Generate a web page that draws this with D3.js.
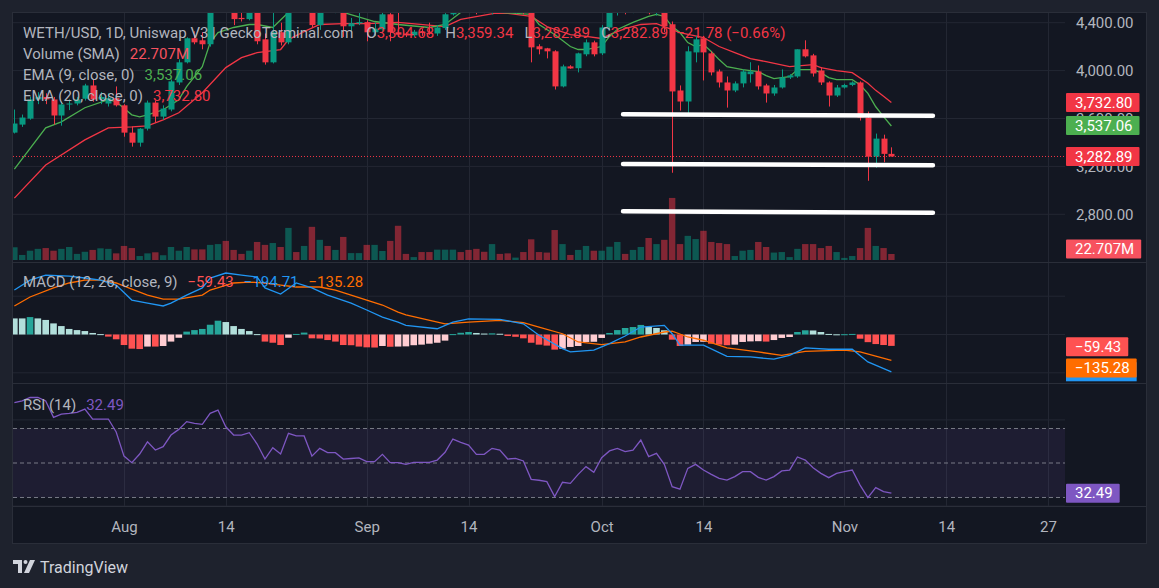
<!DOCTYPE html>
<html>
<head>
<meta charset="utf-8">
<title>WETH/USD 1D</title>
<script src="https://cdn.jsdelivr.net/npm/d3@7"></script>
<style>
  body { margin: 0; background: #1e222d; }
  svg { display: block; }
  text { font-family: Roboto, "Noto Sans", sans-serif; white-space: pre; }
</style>
</head>
<body>
<svg id="chart" width="1159" height="588"></svg>
<script>
// daily candles, first bar is Jul 18 2025
var firstDay = "2025-07-18";
var opens = [3482,3549,3599,3759,3780,3759,3625,3717,3725,3765,
  3876,3759,3725,3770,3710,3482,3398,3515,3733,3616,
  3675,3901,4069,4270,4253,4220,4610,4780,4620,4440,
  4430,4500,4261,4069,4320,4236,4850,4800,4810,4380,
  4620,4540,4550,4370,4395,4405,4320,4345,4470,4320,
  4310,4295,4325,4315,4310,4355,4470,4720,4700,4630,
  4540,4525,4610,4600,4490,4505,4490,4203,4186,4161,
  3868,4035,4020,4136,4236,4144,4360,4500,4520,4500,
  4540,4700,4480,4540,4387,3834,3742,4152,4270,4144,
  3993,3901,3834,3893,3970,3993,3876,3809,3859,3943,
  3951,4178,4127,4001,3901,3792,3859,3880,3901,3608,
  3281,3432,3304.68];
var highs = [3675,3633,3784,3820,3810,3780,3740,3760,3780,3890,
  3926,3820,3810,3868,3720,3532,3520,3750,3750,3710,
  3926,4094,4278,4328,4320,4640,4810,4800,4670,4490,
  4540,4520,4310,4500,4400,4900,4890,4970,4820,4640,
  4680,4640,4560,4440,4500,4420,4400,4500,4480,4490,
  4320,4340,4350,4400,4380,4480,4740,4790,4720,4670,
  4550,4620,4660,4620,4520,4510,4495,4220,4190,4170,
  4050,4045,4150,4260,4250,4380,4520,4550,4530,4620,
  4720,4740,4560,4550,4410,3876,4203,4290,4290,4160,
  4010,3951,3910,4010,4070,4043,3890,3880,4010,3970,
  4178,4253,4140,4030,3910,3880,3890,3910,3910,3658,
  3474,3465,3359.34];
var lows = [3475,3530,3590,3720,3720,3549,3540,3670,3710,3750,
  3740,3720,3700,3700,3448,3365,3365,3500,3566,3590,
  3660,3880,4060,4220,4178,4200,4580,4500,4380,4410,
  4420,4220,4050,4060,4210,4220,4760,4720,4360,4340,
  4500,4480,4280,4320,4380,4245,4290,4320,4245,4280,
  4280,4280,4290,4300,4290,4340,4460,4660,4610,4470,
  4480,4470,4580,4480,4475,4470,4069,4136,4102,3842,
  3860,4015,3985,4120,4119,4130,4340,4460,4470,4480,
  4520,4470,4460,4320,3147,3666,3625,4069,3918,3960,
  3859,3691,3820,3860,3900,3842,3733,3790,3850,3930,
  3940,4110,3950,3880,3700,3780,3850,3870,3583,3080,
  3189,3235,3282.89];
var closes = [3558,3608,3759,3780,3760,3625,3717,3725,3759,3876,
  3759,3780,3770,3710,3482,3398,3515,3733,3616,3683,
  3910,4069,4270,4236,4220,4610,4780,4620,4430,4430,
  4500,4245,4069,4320,4236,4850,4800,4810,4380,4620,
  4540,4550,4370,4395,4405,4320,4350,4470,4320,4300,
  4295,4325,4315,4310,4360,4470,4720,4700,4630,4540,
  4525,4610,4600,4490,4505,4490,4194,4178,4161,3868,
  4035,4018,4144,4236,4136,4360,4500,4520,4500,4540,
  4700,4480,4540,4370,3826,3742,4161,4261,4152,3985,
  3901,3834,3893,3993,3993,3868,3809,3859,3943,3960,
  4178,4119,3976,3901,3792,3859,3880,3901,3608,3281,
  3432,3304.67,3282.89];
// volume in millions USD
var volumes = [48,19,35,42,45,35,42,49,23,31,
  38,44,42,25,53,45,15,25,29,18,
  49,35,49,40,40,57,60,72,38,23,
  35,68,57,64,49,121,30,53,125,76,
  53,38,87,26,26,57,57,34,72,129,
  23,11,30,30,39,39,39,30,38,42,
  31,60,23,25,9,30,78,30,28,113,
  60,19,38,53,35,35,50,68,23,38,
  49,83,60,76,234,60,91,79,110,68,
  64,60,15,35,38,68,49,28,30,11,
  42,60,60,45,53,30,8,15,45,121,
  53,45,22.707];

// [bar index, value]
var ema9 = [[0,3178],[4,3522],[6,3572],[9,3690],[12,3757],[13,3740],[15,3631],[16,3614],[17,3631],[19,3673],
  [21,3757],[22,3866],[24,4033],[25,4234],[26,4318],[28,4360],[30,4385],[31,4385],[33,4360],[35,4486],
  [38,4580],[42,4486],[46,4410],[49,4385],[53,4360],[55,4385],[57,4486],[60,4560],[62,4486],[66,4469],
  [67,4385],[69,4301],[71,4201],[72,4176],[73,4176],[75,4201],[76,4285],[77,4343],[79,4402],[81,4452],
  [82,4469],[83,4452],[84,4368],[85,4318],[86,4234],[87,4201],[88,4218],[89,4159],[90,4092],[91,4033],
  [93,4008],[95,3991],[96,3958],[97,3933],[99,3949],[100,4008],[102,4008],[103,3983],[104,3941],[105,3924],
  [107,3924],[108,3882],[109,3810],[110,3698],[111,3615],[112,3537.06]];
var ema20 = [[0,2935],[4,3212],[9,3421],[12,3522],[15,3530],[17,3539],[19,3589],[21,3648],[24,3815],[27,4025],
  [29,4108],[31,4150],[34,4176],[35,4259],[37,4326],[39,4385],[42,4393],[45,4393],[49,4402],[55,4368],
  [57,4427],[62,4486],[66,4452],[68,4368],[71,4301],[73,4285],[75,4268],[76,4300],[78,4350],[80,4385],
  [82,4393],[83,4368],[85,4318],[88,4276],[90,4201],[92,4150],[94,4100],[96,4075],[99,4033],[102,4050],
  [103,4025],[105,4000],[107,3983],[109,3894],[110,3835],[111,3785],[112,3732.8]];

var macdLine = [[0,232],[2,284],[4,310],[7,305],[9,295],[11,284],[13,258],[15,180],[17,164],[19,149],
  [20,164],[22,206],[24,243],[25,295],[27,321],[29,310],[31,300],[32,243],[34,211],[36,269],
  [38,243],[40,206],[43,164],[45,128],[47,91],[49,65],[50,48],[54,30],[56,65],[58,82],
  [62,79],[65,56],[67,-4],[70,-74],[71,-91],[74,-82],[76,-48],[78,-8],[80,39],[83,48],
  [84,4],[85,-56],[88,-56],[91,-114],[94,-117],[97,-129],[99,-109],[101,-70],[104,-77],[107,-77],
  [109,-143],[112,-194.71]];
var signalLine = [[0,149],[2,196],[5,243],[7,269],[9,284],[11,284],[13,269],[15,237],[17,206],[19,185],
  [21,185],[24,206],[25,232],[28,269],[30,274],[32,269],[34,258],[36,248],[39,248],[41,232],
  [43,206],[45,180],[47,154],[49,117],[50,103],[55,56],[58,65],[62,74],[65,62],[67,39],
  [70,4],[72,-39],[75,-53],[78,-39],[80,-13],[83,13],[84,17],[86,-13],[88,-30],[91,-70],
  [95,-91],[98,-109],[101,-88],[106,-82],[108,-91],[112,-135.28]];
var histogram = [84,84,91,84,76,58,44,29,23,18,
  8,2,-11,-25,-55,-74,-76,-63,-63,-60,
  -37,-17,15,23,29,51,72,65,44,29,
  18,2,-37,-43,-55,-17,3,10,-20,-21,
  -29,-37,-55,-56,-63,-67,-68,-60,-64,-63,
  -62,-56,-53,-48,-43,-32,2,9,13,8,
  5,6,4,-8,-12,-20,-43,-53,-58,-79,
  -74,-65,-60,-39,-38,-18,8,23,34,39,
  50,39,34,22,-27,-60,-53,-39,-38,-48,
  -53,-56,-53,-39,-36,-35,-37,-29,-18,-13,
  13,22,21,13,3,1,1.5,3,-22,-40,
  -50,-55,-59.43];
var rsi = [85,86,88,88,86,76.5,78.4,78.8,79.4,81.3,
  75.5,75.5,75.5,68,54,50.2,55.2,62.3,57.5,59.5,
  66.2,69.5,74,73,72.4,78.8,80.7,71,66.2,66.2,
  67.6,61,52.3,58.9,55.2,67.2,65.7,65.7,54,58.5,
  56,56,52.3,52.6,53,50.8,50.8,55,50.2,50.2,
  49.2,50.4,50.4,50.4,51.7,56.2,63.9,62,60.4,55,
  55,58.5,57.5,52.3,52.7,51.2,40.5,40,39.2,30.5,
  38.8,38.2,43.4,47.9,44.6,53.1,57,58.5,56.6,57.5,
  63.3,53.7,55.6,49.2,36.3,34.8,46.9,49.2,45.9,43.4,
  41.1,40.1,42.1,45,45,41.7,40.1,42.1,45.4,45.9,
  53.5,51.7,47.3,44,41.5,44,45,45.9,37.2,29.9,
  35.7,33.4,32.49];

var timeTicks = ["2025-08-01","2025-08-14","2025-09-01","2025-09-14","2025-10-01","2025-10-14","2025-11-01","2025-11-14","2025-11-27"];
var timeLabels = ["Aug","14","Sep","14","Oct","14","Nov","14","27"];
var priceTicks = [2800,3200,3600,4000,4400];
var macdGridTicks = [-200,0,200];
var macdTicks = [0,200];
var rsiTicks = [25,50,75];
var rsiLevels = [30,50,70];
// hand-drawn horizontal lines: [start time, price], [end time, price]
var drawings = [
  [["2025-10-03T17:30Z",3635],["2025-11-12T07:20Z",3623]],
  [["2025-10-03T17:30Z",3220],["2025-11-12T07:20Z",3209]],
  [["2025-10-03T17:30Z",2825],["2025-11-12T07:20Z",2813]]
];

var svg = d3.select("#chart");
var left = 13, right = 1065, axisX = 1066, frameRight = 1146;
var mainTop = 13, mainBottom = 262, macdTop = 263, macdBottom = 383.5, rsiTop = 384, rsiBottom = 506.5;
var upColor = "#089981", downColor = "#f23645", textColor = "#b2b5be", gridColor = "#232733";
var fontSize = 15;

var day0 = new Date(firstDay + "T00:00Z");
var dayAt = function(i) { return d3.utcDay.offset(day0, i); };
var n = closes.length, last = n - 1;

var x = d3.scaleUtc().domain([new Date("2025-08-01T00:00Z"), new Date("2025-11-27T00:00Z")]).range([124, 1048]);
var y = d3.scaleLinear().domain([2800, 4400]).range([214.3, 22.7]);
var yVol = d3.scaleLinear().domain([0, 950]).range([260, 8]);
var yMacd = d3.scaleLinear().domain([0, 200]).range([334.5, 296.2]);
var yRsi = d3.scaleLinear().domain([50, 75]).range([463, 419.9]);
var fmt = d3.format(",.2f");

// frame
svg.append("rect").attr("x", 12.5).attr("y", 12.5).attr("width", 1134).attr("height", 531)
  .attr("fill", "#131722").attr("stroke", "#2a2e39");

var defs = svg.append("defs");
function clip(id, x0, y0, w, h) {
  defs.append("clipPath").attr("id", id).append("rect").attr("x", x0).attr("y", y0).attr("width", w).attr("height", h);
  return "url(#" + id + ")";
}
var mainClip = clip("mainClip", left, mainTop, right - left, mainBottom - mainTop);
var macdClip = clip("macdClip", left, macdTop, frameRight - left, macdBottom - macdTop);
var rsiClip = clip("rsiClip", left, rsiTop, frameRight - left, rsiBottom - rsiTop);
var macdAxisClip = clip("macdAxisClip", axisX, macdTop, frameRight - axisX, macdBottom - macdTop);
var rsiAxisClip = clip("rsiAxisClip", axisX, rsiTop, frameRight - axisX, rsiBottom - rsiTop + 1.5);

// grid
var grid = svg.append("g").attr("stroke", gridColor).attr("stroke-width", 1);
timeTicks.forEach(function(t) {
  var xx = Math.round(x(new Date(t + "T00:00Z"))) + 0.5;
  grid.append("line").attr("x1", xx).attr("x2", xx).attr("y1", mainTop).attr("y2", rsiBottom);
});
priceTicks.forEach(function(p) {
  grid.append("line").attr("x1", left).attr("x2", right).attr("y1", y(p)).attr("y2", y(p));
});
macdGridTicks.forEach(function(v) {
  grid.append("line").attr("x1", left).attr("x2", right).attr("y1", yMacd(v)).attr("y2", yMacd(v));
});
[75, 25].forEach(function(v) {
  grid.append("line").attr("x1", left).attr("x2", right).attr("y1", yRsi(v)).attr("y2", yRsi(v)).attr("clip-path", rsiClip);
});

// pane separators
[mainBottom + 0.5, macdBottom, rsiBottom].forEach(function(yy) {
  svg.append("line").attr("x1", left).attr("x2", frameRight).attr("y1", yy).attr("y2", yy).attr("stroke", "#2a2e39");
});

// ---- main pane ----
var main = svg.append("g").attr("clip-path", mainClip);
var idx = d3.range(n);
var isUp = function(i) { return closes[i] >= opens[i]; };

main.selectAll(".vol").data(idx).enter().append("rect")
  .attr("x", function(i) { return x(dayAt(i)) - 3.2; })
  .attr("width", 6.4)
  .attr("y", function(i) { return yVol(volumes[i]); })
  .attr("height", function(i) { return yVol(0) - yVol(volumes[i]); })
  .attr("fill", function(i) { return isUp(i) ? "rgba(8,153,129,0.5)" : "rgba(242,54,69,0.5)"; });

var pairLine = function(sy) {
  return d3.line().x(function(d) { return x(dayAt(d[0])); }).y(function(d) { return sy(d[1]); });
};
main.append("path").attr("d", pairLine(y)(ema20)).attr("fill", "none").attr("stroke", "#f23645").attr("stroke-width", 1.3);
main.append("path").attr("d", pairLine(y)(ema9)).attr("fill", "none").attr("stroke", "#4caf50").attr("stroke-width", 1.3);

var candles = main.selectAll(".candle").data(idx).enter().append("g");
candles.append("rect")
  .attr("x", function(i) { return Math.round(x(dayAt(i))); })
  .attr("width", 1)
  .attr("y", function(i) { return y(highs[i]); })
  .attr("height", function(i) { return Math.max(1, y(lows[i]) - y(highs[i])); })
  .attr("fill", function(i) { return isUp(i) ? upColor : downColor; });
candles.append("rect")
  .attr("x", function(i) { return Math.round(x(dayAt(i))) - 2.5; })
  .attr("width", 6)
  .attr("y", function(i) { return y(Math.max(opens[i], closes[i])); })
  .attr("height", function(i) { return Math.max(1, Math.abs(y(opens[i]) - y(closes[i]))); })
  .attr("fill", function(i) { return isUp(i) ? upColor : downColor; });

main.append("line").attr("x1", left).attr("x2", right)
  .attr("y1", y(closes[last])).attr("y2", y(closes[last]))
  .attr("stroke", downColor).attr("stroke-dasharray", "1,2");

drawings.forEach(function(dw) {
  main.append("line")
    .attr("x1", x(new Date(dw[0][0]))).attr("y1", y(dw[0][1]))
    .attr("x2", x(new Date(dw[1][0]))).attr("y2", y(dw[1][1]))
    .attr("stroke", "#ffffff").attr("stroke-width", 4.5).attr("stroke-linecap", "round");
});

// ---- MACD pane ----
var macdG = svg.append("g").attr("clip-path", macdClip);
macdG.selectAll(".hist").data(idx).enter().append("rect")
  .attr("x", function(i) { return x(dayAt(i)) - 3.3; })
  .attr("width", 6.6)
  .attr("y", function(i) { return Math.min(yMacd(0), yMacd(histogram[i])); })
  .attr("height", function(i) { return Math.max(1, Math.abs(yMacd(histogram[i]) - yMacd(0))); })
  .attr("fill", function(i) {
    var h = histogram[i], prev = i > 0 ? histogram[i - 1] : h;
    if (h >= 0) return h > prev ? "#26a69a" : "#b2dfdb";
    return h > prev ? "#ffcdd2" : "#ff5252";
  });
macdG.append("path").attr("d", pairLine(yMacd)(signalLine)).attr("fill", "none").attr("stroke", "#ff6d00").attr("stroke-width", 1.3);
macdG.append("path").attr("d", pairLine(yMacd)(macdLine)).attr("fill", "none").attr("stroke", "#2196f3").attr("stroke-width", 1.3);

// ---- RSI pane ----
var rsiG = svg.append("g").attr("clip-path", rsiClip);
rsiG.append("rect").attr("x", left).attr("width", right - left)
  .attr("y", yRsi(70)).attr("height", yRsi(30) - yRsi(70))
  .attr("fill", "rgba(126,87,194,0.1)");
rsiLevels.forEach(function(v) {
  rsiG.append("line").attr("x1", left).attr("x2", right).attr("y1", yRsi(v)).attr("y2", yRsi(v))
    .attr("stroke", "#787b86").attr("stroke-dasharray", "4,3");
});
rsiG.append("path")
  .attr("d", d3.line().x(function(d, i) { return x(dayAt(i)); }).y(function(d) { return yRsi(d); })(rsi))
  .attr("fill", "none").attr("stroke", "#7e57c2").attr("stroke-width", 1.3);

// ---- axes ----
function styleAxis(g) {
  g.select(".domain").remove();
  g.selectAll("text").attr("fill", textColor).attr("font-size", fontSize);
}
svg.append("g").attr("transform", "translate(" + axisX + ",0)")
  .call(d3.axisRight(y).tickValues(priceTicks).tickSize(0).tickPadding(10).tickFormat(fmt))
  .call(styleAxis);
svg.append("g").attr("transform", "translate(" + axisX + ",0)").attr("clip-path", macdAxisClip)
  .call(d3.axisRight(yMacd).tickValues(macdTicks).tickSize(0).tickPadding(10).tickFormat(fmt))
  .call(styleAxis);
svg.append("g").attr("transform", "translate(" + axisX + ",0)").attr("clip-path", rsiAxisClip)
  .call(d3.axisRight(yRsi).tickValues(rsiTicks).tickSize(0).tickPadding(10).tickFormat(fmt))
  .call(styleAxis);
svg.append("g").attr("transform", "translate(0," + rsiBottom + ")")
  .call(d3.axisBottom(x).tickValues(timeTicks.map(function(t) { return new Date(t + "T00:00Z"); }))
    .tickSize(0).tickPadding(15).tickFormat(function(d, i) { return timeLabels[i]; }))
  .call(styleAxis);

// value tags on the right scale
function tag(parent, yc, label, bg) {
  var g = parent.append("g");
  var t = g.append("text").attr("x", axisX + 9).attr("y", yc).attr("dy", "0.35em")
    .attr("fill", "#ffffff").attr("font-size", fontSize).text(label);
  var w = t.node().getComputedTextLength();
  g.insert("rect", "text").attr("x", axisX).attr("y", yc - 9.5).attr("width", w + 16).attr("height", 19)
    .attr("fill", bg).attr("rx", 1);
  return w + 16;
}
tag(svg, y(ema20[ema20.length - 1][1]), fmt(ema20[ema20.length - 1][1]), "#f23645");
tag(svg, y(ema9[ema9.length - 1][1]) - 0.5, fmt(ema9[ema9.length - 1][1]), "#4caf50");
tag(svg, y(closes[last]), fmt(closes[last]), "#f23645");
tag(svg, 249, d3.format(".3f")(volumes[last]) + "M", "#f7525f");
var macdTags = svg.append("g").attr("clip-path", macdAxisClip);
// MACD line tag sits under the signal tag, only its lower edge shows
var blueTag = macdTags.append("rect").attr("x", axisX).attr("y", yMacd(macdLine[macdLine.length - 1][1]) - 9.5)
  .attr("height", 19).attr("fill", "#2196f3");
var sigW = tag(macdTags, 368, fmt(signalLine[signalLine.length - 1][1]), "#ff6d00");
blueTag.attr("width", sigW);
tag(macdTags, 346.8, fmt(histogram[last]), "#ff5252");
tag(svg, yRsi(rsi[last]), fmt(rsi[last]), "#7e57c2");

// ---- legends ----
function legend(yy, parts) {
  var t = svg.append("text").attr("x", 23).attr("y", yy).attr("font-size", fontSize);
  parts.forEach(function(p) {
    var s = t.append("tspan").attr("fill", p[1]).text(p[0]);
    if (p[2]) s.attr("dx", p[2]);
  });
}
var change = closes[last] - closes[last - 1];
var pct = change / closes[last - 1] * 100;
var lc = closes[last] >= opens[last] ? upColor : downColor;
legend(38, [["WETH/USD, 1D, Uniswap V3 | GeckoTerminal.com", textColor],
  ["O", textColor, 13], [fmt(opens[last]), lc], ["H", textColor, 11], [fmt(highs[last]), lc],
  ["L", textColor, 11], [fmt(lows[last]), lc], ["C", textColor, 11], [fmt(closes[last]), lc],
  [d3.format(",.2f")(change) + " (" + d3.format(".2f")(pct) + "%)", lc, 8]]);
legend(59, [["Volume (SMA)", textColor], [d3.format(".3f")(volumes[last]) + "M", "#f7525f", 10]]);
legend(80, [["EMA (9, close, 0)", textColor], [fmt(ema9[ema9.length - 1][1]), "#4caf50", 10]]);
legend(101, [["EMA (20, close, 0)", textColor], [fmt(ema20[ema20.length - 1][1]), "#f23645", 10]]);
legend(287, [["MACD (12, 26, close, 9)", textColor], [fmt(histogram[last]), "#ff5252", 10],
  [fmt(macdLine[macdLine.length - 1][1]), "#2196f3", 10], [fmt(signalLine[signalLine.length - 1][1]), "#ff6d00", 10]]);
legend(410, [["RSI (14)", textColor], [fmt(rsi[last]), "#7e57c2", 10]]);

// ---- watermark ----
var wm = svg.append("g").attr("fill", "#d1d4dc");
wm.append("path").attr("d", "M13,560 h9 v13 h-4 v-9 h-5 z");
wm.append("circle").attr("cx", 25.5).attr("cy", 562).attr("r", 2);
wm.append("path").attr("d", "M30,560 h5 l-6,13 h-5 z");
wm.append("text").attr("x", 40).attr("y", 573).attr("font-size", 16).attr("fill", "#d1d4dc").text("TradingView");
</script>
</body>
</html>
